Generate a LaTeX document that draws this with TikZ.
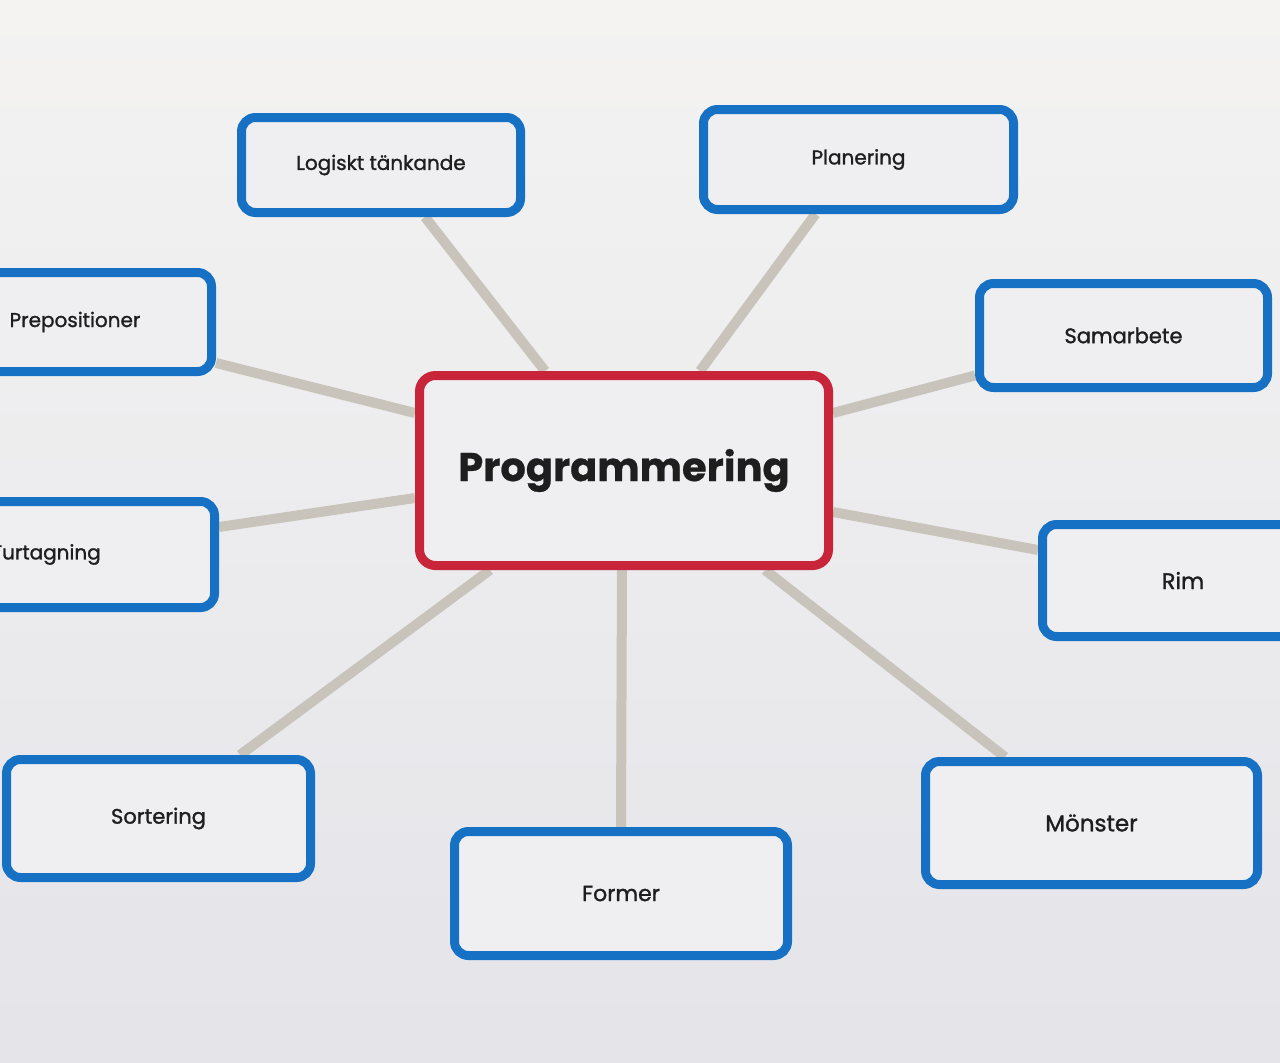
\documentclass[tikz,border=0pt]{standalone}
\usepackage{fontspec}
\setmainfont{Poppins}[FakeBold=1.3]
\newfontfamily\hubfont{Poppins}[FakeBold=0.6]
\usetikzlibrary{calc}
\definecolor{bluebox}{HTML}{1670C4}
\definecolor{redbox}{HTML}{C8243A}
\definecolor{linkgray}{HTML}{C9C4BB}
\definecolor{papertop}{HTML}{F4F3F2}
\definecolor{paperbot}{HTML}{E4E4E9}
\definecolor{boxfill}{HTML}{EFEFF1}
\definecolor{ink}{HTML}{1E1E1E}
\pgfdeclarelayer{bg}
\pgfsetlayers{bg,main}
\begin{document}
\begin{tikzpicture}[x=1pt,y=-1pt,
  leaf/.style n args={3}{draw=bluebox, line width=9pt, rounded corners=14pt, fill=boxfill,
    inner sep=0pt, minimum width=#1, minimum height=#2, text=ink,
    font=\fontsize{#3}{#3}\selectfont},
  hub/.style 2 args={draw=redbox, line width=9pt, rounded corners=16pt, fill=boxfill,
    inner sep=0pt, minimum width=#1, minimum height=#2, text=ink,
    font=\hubfont\fontsize{40}{46}\selectfont\bfseries},
  link/.style={draw=linkgray, line width=10pt}]
\useasboundingbox (0,0) rectangle (1280,1063);
\clip (0,0) rectangle (1280,1063);
\begin{pgfonlayer}{bg}
  \shade[top color=papertop, bottom color=paperbot] (0,0) rectangle (1280,1063);
\end{pgfonlayer}
\node[hub={409pt}{190pt}] (prog) at (624,470.5) {Programmering};
\node[leaf={279pt}{95pt}{20}] (log) at (381,165) {Logiskt tänkande};
\node[leaf={310pt}{100pt}{20}] (plan) at (858.5,159.5) {Planering};
\node[leaf={273pt}{99pt}{20}] (pre) at (75,322) {Prepositioner};
\node[leaf={288pt}{104pt}{21}] (sam) at (1123.5,335.5) {Samarbete};
\node[leaf={337pt}{106pt}{20}] (tur) at (46,554.5) {Turtagning};
\node[leaf={281pt}{112pt}{22.5}] (rim) at (1183,580.5) {Rim};
\node[leaf={304pt}{118pt}{21}] (sort) at (158.5,818.5) {Sortering};
\node[leaf={333pt}{124pt}{22}] (former) at (621,893.5) {Former};
\node[leaf={332pt}{123pt}{23}] (mon) at (1091.5,823) {Mönster};
\begin{pgfonlayer}{bg}
  \draw[link] ($(log.south)+(44,0)$) -- ($(prog.north)+(-79,0)$);
  \draw[link] ($(plan.south)+(-43,0)$) -- ($(prog.north)+(76,0)$);
  \draw[link] ($(pre.east)+(0,41)$) -- ($(prog.west)+(0,-57.5)$);
  \draw[link] ($(sam.west)+(0,40)$) -- ($(prog.east)+(0,-57.5)$);
  \draw[link] ($(tur.east)+(0,-27.5)$) -- ($(prog.west)+(0,27.5)$);
  \draw[link] ($(rim.west)+(0,-30.5)$) -- ($(prog.east)+(0,41.5)$);
  \draw[link] ($(sort.north)+(81.5,0)$) -- ($(prog.south)+(-134,0)$);
  \draw[link] (former.north) -- ($(prog.south)+(-2,0)$);
  \draw[link] ($(mon.north)+(-86.5,0)$) -- ($(prog.south)+(141,0)$);
\end{pgfonlayer}
\end{tikzpicture}
\end{document}
